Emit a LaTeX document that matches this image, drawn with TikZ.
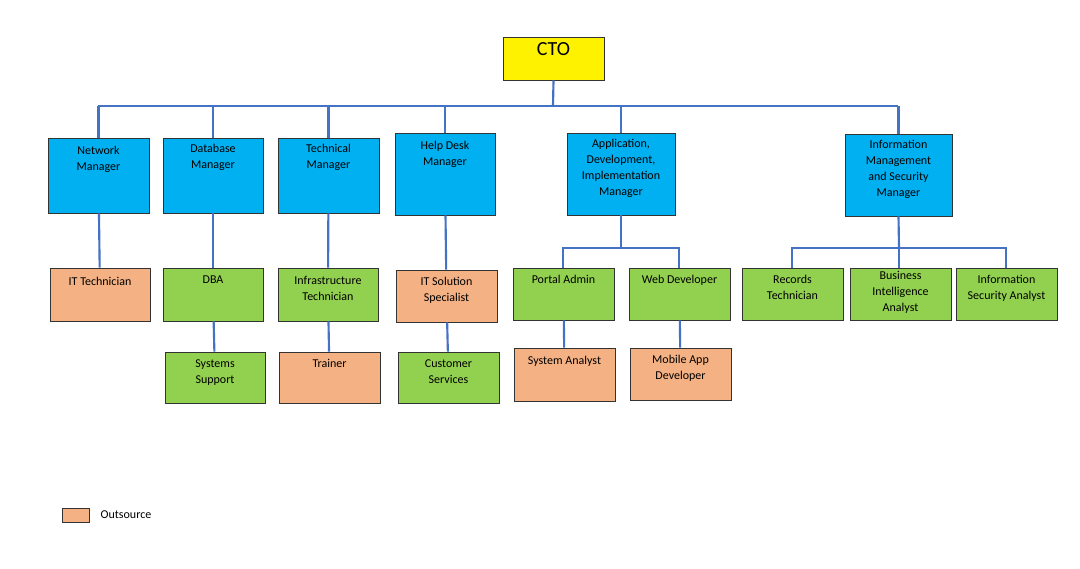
\documentclass[tikz,border=0pt]{standalone}
\usepackage{fontspec}
\setmainfont{Carlito}
\definecolor{cblue}{HTML}{00B0F0}
\definecolor{cgreen}{HTML}{92D050}
\definecolor{corange}{HTML}{F4B183}
\definecolor{cline}{HTML}{4472C4}
\begin{document}
\begin{tikzpicture}[x=0.75pt,y=-0.75pt,
  box/.style={draw=black!80,line width=0.5pt,inner sep=0pt},
  txt/.style={anchor=north,align=center,font=\fontsize{9}{12}\selectfont,inner sep=0pt},
  conn/.style={draw=cline,line width=1.6pt}]
\useasboundingbox[fill=white] (0,0) rectangle (1080,568);
\newcommand{\bx}[8]{%
  \node[box,fill=#6,minimum width={(#4-#2)*0.75pt},minimum height={(#5-#3)*0.75pt}] (#1) at ({(#2+#4)/2},{(#3+#5)/2}) {};
  \node[txt] at ({(#2+#4)/2},{#3+#7}) {#8};}
% connectors first
\coordinate (busL) at (98,106); \coordinate (busR) at (898,106); \coordinate (busC) at (553,106);
\coordinate (aL) at (563,248); \coordinate (aR) at (679,248); \coordinate (aC) at (621,248);
\coordinate (iL) at (792,248); \coordinate (iR) at (1006,248); \coordinate (iC) at (899,248);
\bx{cto}{503}{37}{604}{80}{yellow}{5}{\fontsize{15}{18}\selectfont CTO}
\bx{nm}{48}{138}{149}{213}{cblue}{8}{Network\\Manager}
\bx{dm}{163}{138}{263}{213}{cblue}{6}{Database\\Manager}
\bx{tm}{278}{138}{379}{213}{cblue}{6}{Technical\\Manager}
\bx{hm}{395}{133}{495}{215}{cblue}{8}{Help Desk\\Manager}
\bx{am}{567}{133}{675}{215}{cblue}{6}{Application,\\Development,\\Implementation\\Manager}
\bx{im}{845}{134}{952}{216}{cblue}{6}{Information\\Management\\and Security\\Manager}
\bx{itt}{50}{268}{150}{321}{corange}{9}{IT Technician}
\bx{dba}{163}{268}{263}{321}{cgreen}{8}{DBA}
\bx{inf}{278}{268}{378}{321}{cgreen}{8}{Infrastructure\\Technician}
\bx{its}{396}{270}{497}{322}{corange}{7}{IT Solution\\Specialist}
\bx{pa}{513}{268}{614}{320}{cgreen}{7}{Portal Admin}
\bx{wd}{629}{268}{730}{320}{cgreen}{7}{Web Developer}
\bx{rt}{742}{268}{843}{320}{cgreen}{7}{Records\\Technician}
\bx{bi}{850}{268}{951}{320}{cgreen}{3}{Business\\Intelligence\\Analyst}
\bx{isa}{956}{268}{1057}{320}{cgreen}{7}{Information\\Security Analyst}
\bx{ss}{165}{352}{265}{403}{cgreen}{7}{Systems\\Support}
\bx{tr}{279}{352}{380}{403}{corange}{7}{Trainer}
\bx{cs}{398}{352}{499}{403}{cgreen}{7}{Customer\\Services}
\bx{sa}{514}{348}{615}{401}{corange}{8}{System Analyst}
\bx{ma}{630}{348}{731}{400}{corange}{7}{Mobile App\\Developer}
\begin{scope}[on background layer/.style={}]
\draw[conn] (busL) -- (busR);
\draw[conn] (cto.south) -- (busC);
\foreach \m in {nm,dm,tm,hm,am,im}{\draw[conn] (\m.north) -- (\m.north |- busL);}
\draw[conn] (nm) -- (itt); \draw[conn] (dm) -- (dba); \draw[conn] (tm) -- (inf); \draw[conn] (hm) -- (its);
\draw[conn] (dba) -- (ss); \draw[conn] (inf) -- (tr); \draw[conn] (its) -- (cs);
\draw[conn] (pa) -- (sa); \draw[conn] (wd) -- (ma);
\draw[conn] (am.south) -- (aC); \draw[conn] (pa.north -| aL) -- (aL) -- (aR) -- (wd.north -| aR);
\draw[conn] (im.south) -- (iC); \draw[conn] (rt.north -| iL) -- (iL) -- (iR) -- (isa.north -| iR);
\draw[conn] (iC) -- (bi.north -| iC);
\end{scope}
% redraw boxes on top
\foreach \n in {nm,dm,tm,hm,itt,dba,inf,its,ss,tr,cs,sa,ma,pa,wd}{}
\node[box,fill=corange,minimum width=27*0.75pt,minimum height=14*0.75pt] (leg) at (75.5,515) {};
\node[anchor=west,font=\fontsize{9}{12}\selectfont] (legt) at (96,515) {Outsource};
\end{tikzpicture}
\end{document}
